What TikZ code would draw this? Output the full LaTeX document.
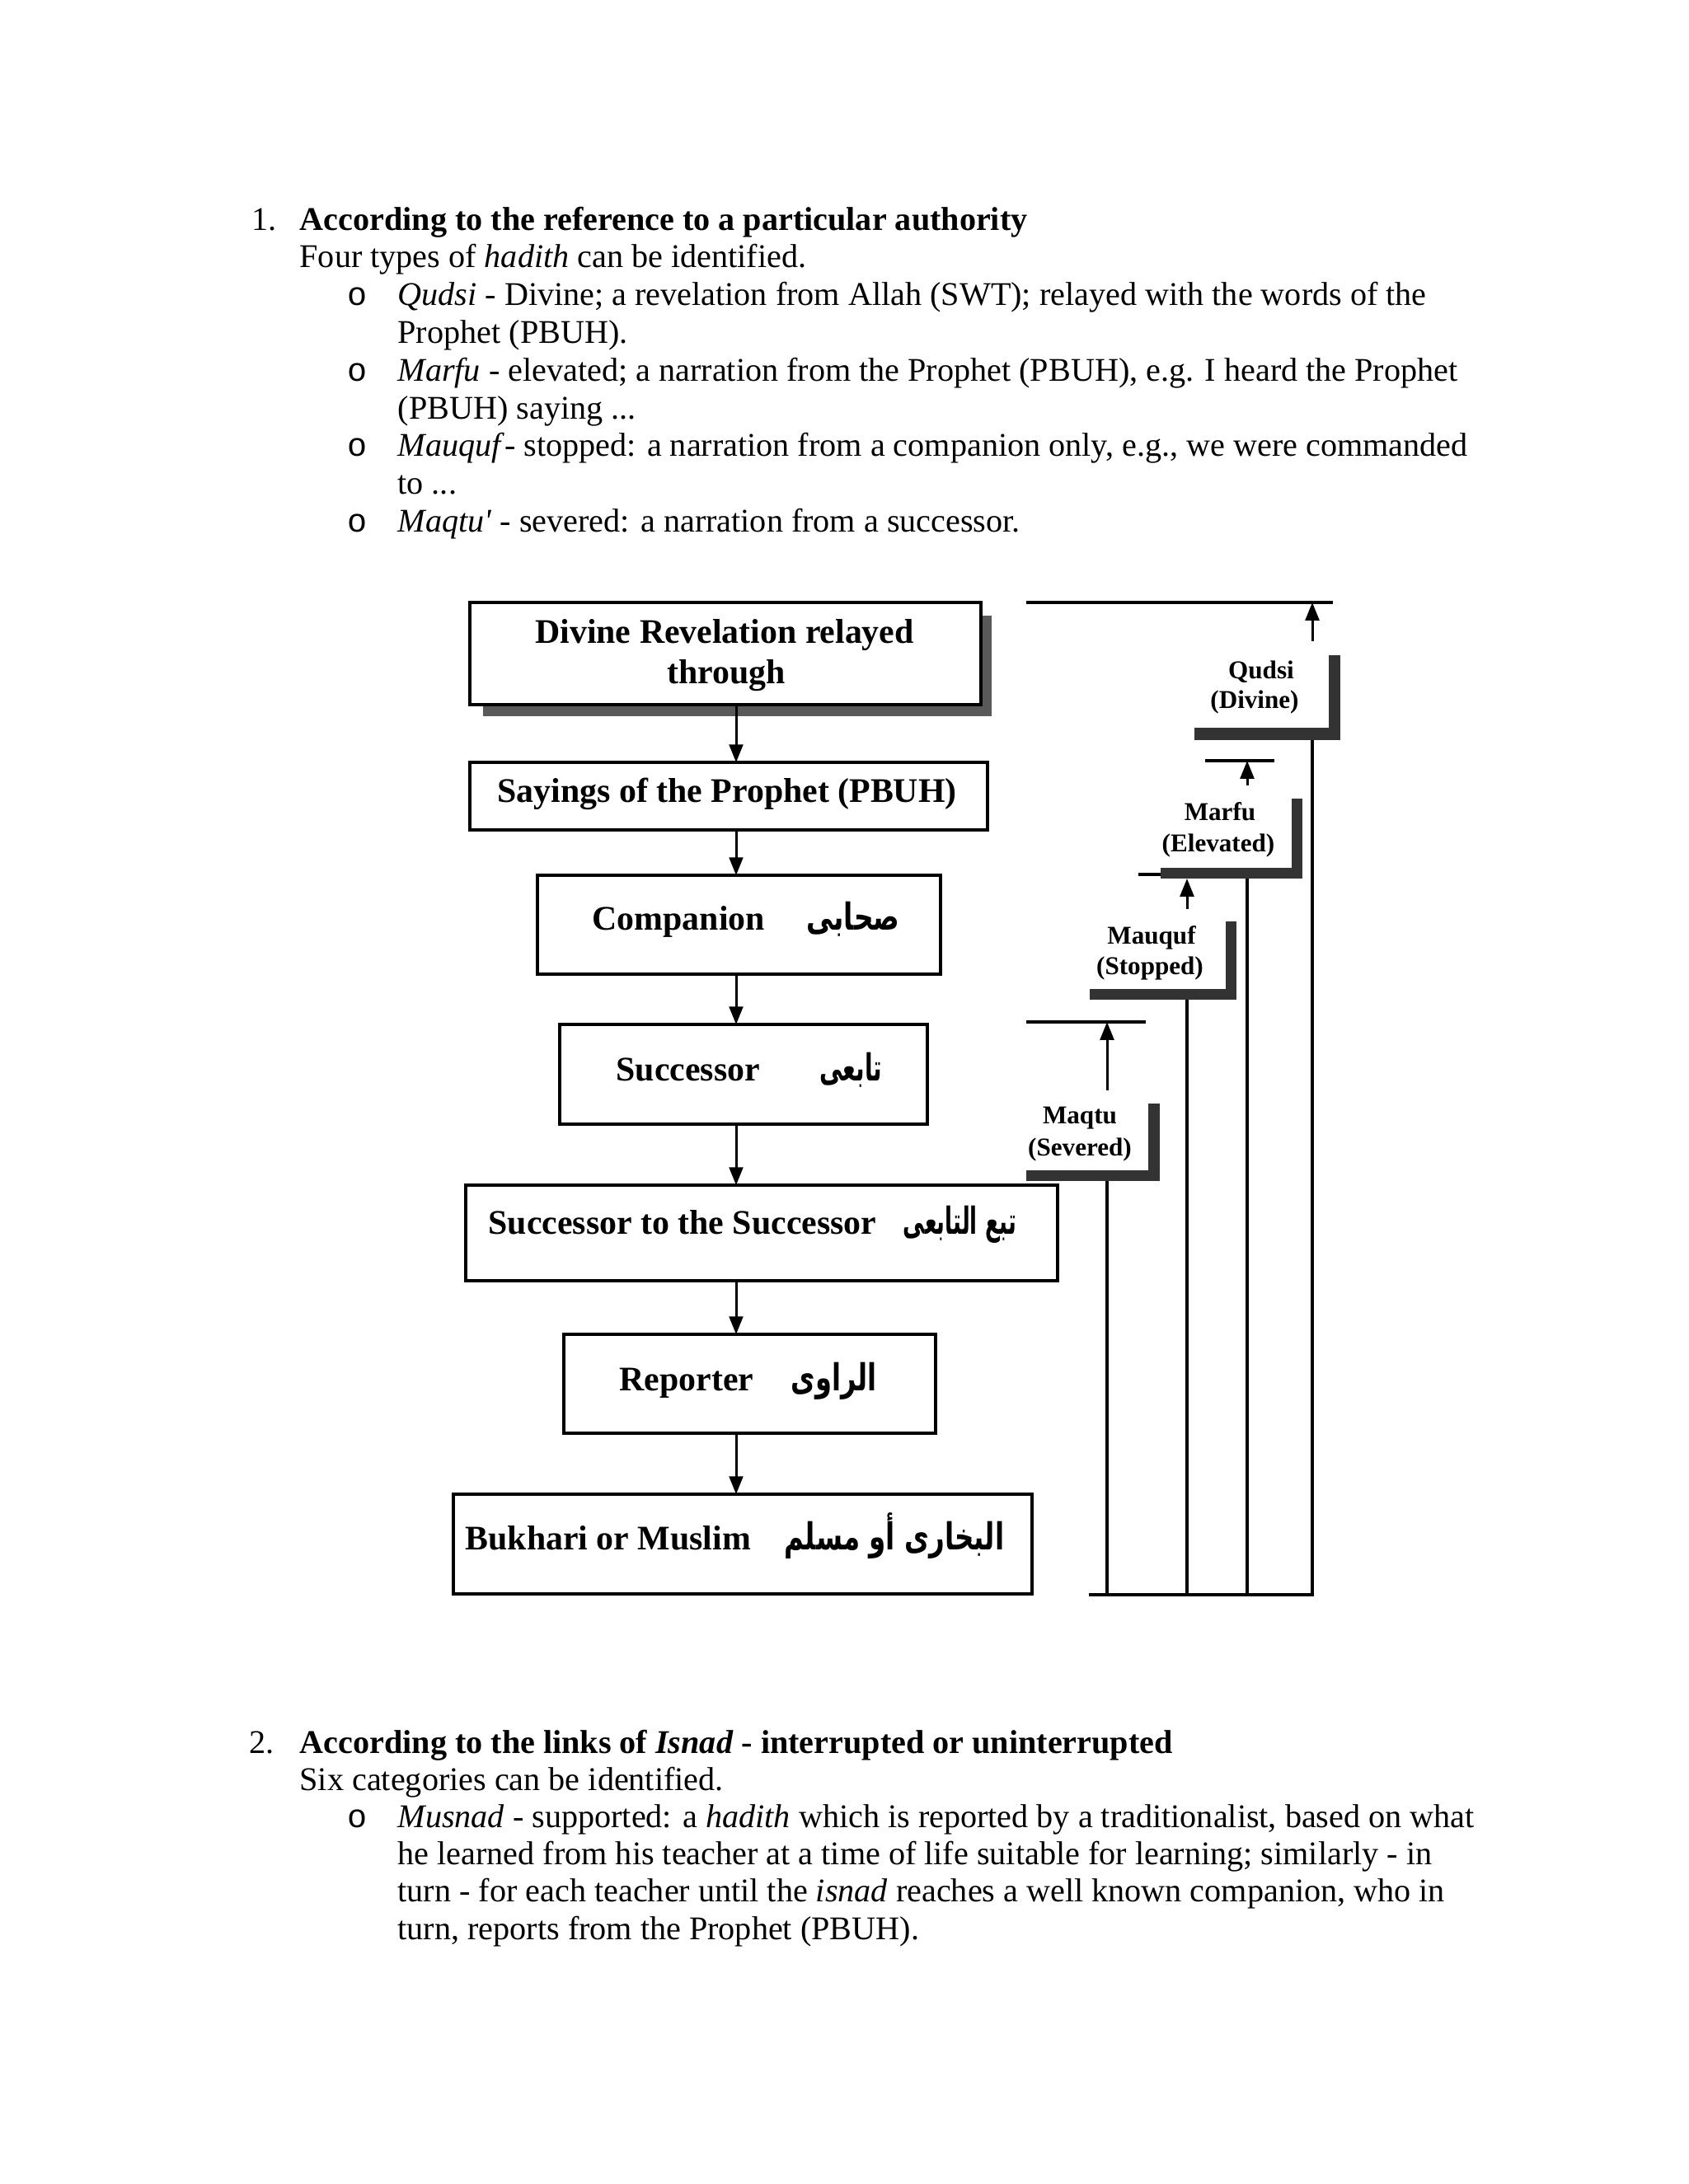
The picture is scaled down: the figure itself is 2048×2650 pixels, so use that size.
\documentclass[tikz,border=0pt]{standalone}
\usepackage{fontspec}
\setmainfont{Liberation Serif}
\newfontfamily\arabicfont[Script=Arabic]{DejaVu Sans}
\newfontfamily\bulletfont{Liberation Mono}
\TeXXeTstate=1
\usetikzlibrary{arrows.meta,fit}
\begin{document}
\begin{tikzpicture}[x=0.29883bp,y=-0.29883bp,
  body/.style={anchor=base west, inner sep=0, font=\fontsize{12bp}{14bp}\selectfont},
  bul/.style={anchor=base west, inner sep=0, font=\fontsize{12bp}{14bp}\bulletfont},
  box/.style={draw, line width=1.2bp, fill=white, inner sep=0, outer sep=0},
  btxt/.style={inner sep=0, font=\fontsize{12.5bp}{15bp}\selectfont\bfseries},
  atxt/.style={inner sep=0, anchor=base east, font=\fontsize{13.5bp}{15bp}\arabicfont\bfseries},
  lab/.style={inner sep=0, anchor=base, font=\fontsize{9.3bp}{11bp}\selectfont\bfseries},
  arr/.style={line width=0.9bp, -{Triangle[length=6.5bp,width=5bp]}},
  ln/.style={line width=1bp},
  bar/.style={fill=black!80},
  shadow/.style={fill=black!65}]
\useasboundingbox (0,0) rectangle (2048,2650);
\fill[white] (0,0) rectangle (2048,2650);

% ---------- top text ----------
\node[body] (n1) at (305,279) {1.};
\node[body] (t1) at (363,279) {\textbf{According to the reference to a particular authority}};
\node[body] (t2) at (363,324.8) {Four types of \textit{hadith} can be identified.};
\node[bul] (b3) at (421,370.6) {o};
\node[body] (t3) at (482,370.6) {\textit{Qudsi} - Divine; a revelation from Allah (SWT); relayed with the words of the};
\node[body] (t4) at (482,416.4) {Prophet (PBUH).};
\node[bul] (b5) at (421,462.2) {o};
\node[body] (t5) at (482,462.2) {\textit{Marfu} - elevated; a narration from the Prophet (PBUH), e.g. I heard the Prophet};
\node[body] (t6) at (482,508) {(PBUH) saying ...};
\node[bul] (b7) at (421,553.8) {o};
\node[body] (t7) at (482,553.8) {\textit{Mauquf}- stopped: a narration from a companion only, e.g., we were commanded};
\node[body] (t8) at (482,599.6) {to ...};
\node[bul] (b9) at (421,645.4) {o};
\node[body] (t9) at (482,645.4) {\textit{Maqtu\textquotesingle} - severed: a narration from a successor.};

% ---------- left chain ----------
\fill[shadow] (586,747) rectangle (1203,869);
\node[box, fit={(570,731) (1190,855)}] (d1) {};
\node[box, fit={(570,925) (1198,1007)}] (d2) {};
\node[box, fit={(652,1062) (1141,1182)}] (d3) {};
\node[box, fit={(679,1243) (1125,1364)}] (d4) {};
\node[box, fit={(565,1438) (1283,1554)}] (d5) {};
\node[box, fit={(684,1619) (1135,1739)}] (d6) {};
\node[box, fit={(550,1813) (1252,1934)}] (d7) {};

\node[btxt, anchor=base] (d1a) at (879,780) {Divine Revelation relayed};
\node[btxt, anchor=base] (d1b) at (881,829) {through};
\node[btxt, anchor=base west] (d2a) at (603,973) {Sayings of the Prophet (PBUH)};
\node[btxt, anchor=base west] (d3a) at (718,1128) {Companion};
\node[atxt] (d3b) at (1092,1128) {\resizebox{33.8bp}{\height}{\beginR صحابى\endR}};
\node[btxt, anchor=base west] (d4a) at (747,1311) {Successor};
\node[atxt] (d4b) at (1071,1311) {\resizebox{22.7bp}{\height}{\beginR تابعى\endR}};
\node[btxt, anchor=base west] (d5a) at (592,1497) {Successor to the Successor};
\node[atxt] (d5b) at (1234,1497) {\resizebox{41.1bp}{\height}{\beginR تبع التابعى\endR}};
\node[btxt, anchor=base west] (d6a) at (751,1687) {Reporter};
\node[atxt] (d6b) at (1064,1687) {\resizebox{30.9bp}{\height}{\beginR الراوى\endR}};
\node[btxt, anchor=base west] (d7a) at (564,1880) {Bukhari or Muslim};
\node[atxt] (d7b) at (1219,1880) {\resizebox{79.8bp}{\height}{\beginR البخارى أو مسلم\endR}};

\coordinate (ax) at (893,0);
\draw[arr] (d1.south -| ax) -- (d2.north -| ax);
\draw[arr] (d2.south -| ax) -- (d3.north -| ax);
\draw[arr] (d3.south -| ax) -- (d4.north -| ax);
\draw[arr] (d4.south -| ax) -- (d5.north -| ax);
\draw[arr] (d5.south -| ax) -- (d6.north -| ax);
\draw[arr] (d6.south -| ax) -- (d7.north -| ax);

% ---------- right side ----------
\coordinate (qL) at (1245,731);   \coordinate (qR) at (1617,731);
\coordinate (qA) at (1592,778);   \coordinate (qT) at (1592,731);
\coordinate (qD) at (1592,898);   \coordinate (qB) at (1592,1935);
\coordinate (mL) at (1462,923);   \coordinate (mR) at (1546,923);
\coordinate (mA) at (1513,953);   \coordinate (mT) at (1513,923);
\coordinate (mD) at (1513,1066);  \coordinate (mB) at (1513,1935);
\coordinate (sL) at (1381,1061);  \coordinate (sR) at (1420,1061);
\coordinate (sA) at (1440,1103);  \coordinate (sT) at (1440,1066);
\coordinate (sD) at (1440,1213);  \coordinate (sB) at (1440,1935);
\coordinate (tL) at (1245,1240);  \coordinate (tR) at (1390,1240);
\coordinate (tA) at (1343,1323);  \coordinate (tT) at (1343,1240);
\coordinate (tD) at (1343,1433);  \coordinate (tB) at (1343,1935);
\coordinate (bL) at (1321,1935);  \coordinate (bR) at (1594,1935);

\draw[ln] (qL) -- (qR);
\draw[ln] (mL) -- (mR);
\draw[ln] (sL) -- (sR);
\draw[ln] (tL) -- (tR);

\fill[bar] (1612,795) rectangle (1626,898);
\fill[bar] (1449,883) rectangle (1626,898);
\fill[bar] (1567,969) rectangle (1580,1066);
\fill[bar] (1408,1053) rectangle (1580,1066);
\fill[bar] (1487,1118) rectangle (1500,1213);
\fill[bar] (1322,1200) rectangle (1500,1213);
\fill[bar] (1393,1339) rectangle (1407,1433);
\fill[bar] (1245,1420) rectangle (1407,1433);

\draw[arr] (qA) -- (qT);
\draw[arr] (mA) -- (mT);
\draw[arr] (sA) -- (sT);
\draw[arr] (tA) -- (tT);

\draw[ln] (qD) -- (qB);
\draw[ln] (mD) -- (mB);
\draw[ln] (sD) -- (sB);
\draw[ln] (tD) -- (tB);
\draw[ln] (bL) -- (bR);

\node[lab] (q1) at (1530,823) {Qudsi};
\node[lab] (q2) at (1522,859) {(Divine)};
\node[lab] (m1) at (1480,995) {Marfu};
\node[lab] (m2) at (1478,1033) {(Elevated)};
\node[lab] (s1) at (1397,1145) {Mauquf};
\node[lab] (s2) at (1395,1182) {(Stopped)};
\node[lab] (u1) at (1310,1363) {Maqtu};
\node[lab] (u2) at (1310,1402) {(Severed)};

% ---------- bottom text ----------
\node[body] (n2) at (302,2127) {2.};
\node[body] (c1) at (363,2127) {\textbf{According to the links of \textit{Isnad} - interrupted or uninterrupted}};
\node[body] (c2) at (363,2172.2) {Six categories can be identified.};
\node[bul] (e3) at (421,2217.4) {o};
\node[body] (c3) at (482,2217.4) {\textit{Musnad} - supported: a \textit{hadith} which is reported by a traditionalist, based on what};
\node[body] (c4) at (482,2262.6) {he learned from his teacher at a time of life suitable for learning; similarly - in};
\node[body] (c5) at (482,2307.8) {turn - for each teacher until the \textit{isnad} reaches a well known companion, who in};
\node[body] (c6) at (482,2353) {turn, reports from the Prophet (PBUH).};
\end{tikzpicture}
\end{document}
